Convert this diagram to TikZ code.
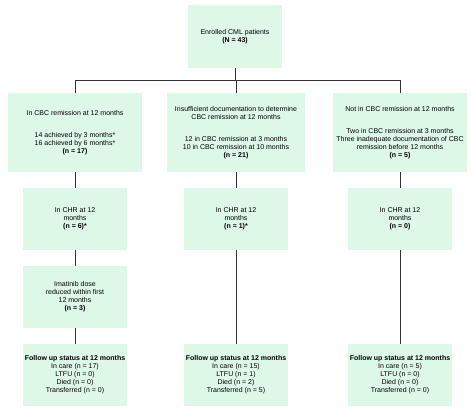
\documentclass[tikz,border=0pt]{standalone}
\usepackage{fontspec}
\setmainfont{Liberation Sans}
\definecolor{boxgreen}{RGB}{222,248,232}
\definecolor{linegray}{RGB}{50,50,50}
\begin{document}
\begin{tikzpicture}[x=1pt,y=-1pt,
  box/.style={fill=boxgreen,draw=none,inner sep=0pt,align=center,
    font=\fontsize{7}{8}\selectfont},
  wide/.style={box,minimum width=134pt,minimum height=79pt},
  small/.style={box,minimum width=104pt,minimum height=62pt},
  conn/.style={draw=linegray,line width=0.8pt}]
\useasboundingbox (0,0) rectangle (474,412);
\node[box,minimum width=94pt,minimum height=63pt] (top) at (235,36.5)
  {Enrolled CML patients\\\textbf{(N = 43)}};
\node[wide] (a2) at (75,132.5)
  {In CBC remission at 12 months\\[14pt]
   14 achieved by 3 months*\\16 achieved by 6 months*\\\textbf{(n = 17)}};
\node[wide,minimum width=138pt] (b2) at (236,132.5)
  {Insufficient documentation to determine\\CBC remission at 12 months\\[14pt]
   12 in CBC remission at 3 months\\10 in CBC remission at 10 months\\\textbf{(n = 21)}};
\node[wide] (c2) at (400,132.5)
  {Not in CBC remission at 12 months\\[14pt]
   Two in CBC remission at 3 months\\Three inadequate documentation of CBC\\remission before 12 months\\\textbf{(n = 5)}};
\node[small] (a3) at (75,219) {In CHR at 12\\months\\\textbf{(n = 6)*}};
\node[small] (b3) at (236,219) {In CHR at 12\\months\\\textbf{(n = 1)*}};
\node[small] (c3) at (400,219) {In CHR at 12\\months\\\textbf{(n = 0)}};
\node[small] (a4) at (75,297) {Imatinib dose\\reduced within first\\12 months\\\textbf{(n = 3)}};
\node[small] (a5) at (75,375) {\textbf{Follow up status at 12 months}\\In care (n = 17)\\LTFU (n = 0)\\Died (n = 0)\\Transferred (n = 0)};
\node[small] (b5) at (236,375) {\textbf{Follow up status at 12 months}\\In care (n = 15)\\LTFU (n = 1)\\Died (n = 2)\\Transferred (n = 5)};
\node[small] (c5) at (400,375) {\textbf{Follow up status at 12 months}\\In care (n = 5)\\LTFU (n = 0)\\Died (n = 0)\\Transferred (n = 0)};
\coordinate (hl) at (75,80);
\coordinate (hm) at (235,80);
\coordinate (hr) at (400,80);
\draw[conn] (top.south) -- (hm);
\draw[conn] (a2.north) -- (hl) -- (hr) -- (c2.north);
\draw[conn] (hm -| b2.north) -- (b2.north);
\draw[conn] (a2.south) -- (a3.north);
\draw[conn] (b2.south) -- (b3.north);
\draw[conn] (c2.south) -- (c3.north);
\draw[conn] (a3.south) -- (a4.north);
\draw[conn] (a4.south) -- (a5.north);
\draw[conn] (b3.south) -- (b5.north);
\draw[conn] (c3.south) -- (c5.north);
\end{tikzpicture}
\end{document}
